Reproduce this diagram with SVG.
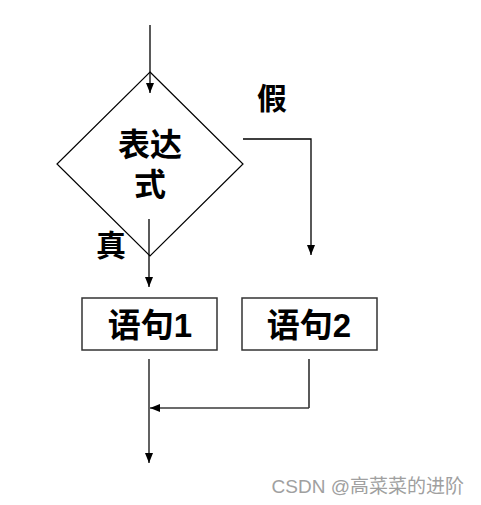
<svg xmlns="http://www.w3.org/2000/svg" width="481" height="505" viewBox="0 0 481 505">
<style>
.ln{fill:none;stroke:#000;stroke-width:1.3}
.lg{fill:none;stroke:#3a3a3a;stroke-width:1.6}
.bx{fill:#fff;stroke:#333;stroke-width:1.5}
.t{font-family:"Liberation Sans","Noto Sans CJK SC",sans-serif;font-weight:bold;fill:#000}
.wm{font-family:"Liberation Sans","Noto Sans CJK SC",sans-serif;fill:#a0a0a0;font-size:19px}
</style>
<defs>
<marker id="ah" viewBox="0 0 10 10" refX="10" refY="5" markerWidth="10" markerHeight="10" markerUnits="userSpaceOnUse" orient="auto">
<path d="M0,1 L10,5 L0,9 Z" fill="#000"/>
</marker>
</defs>
<rect width="481" height="505" fill="#fff"/>
<g id="decision">
<polygon points="150,72 243,164 150,256 57,164" fill="#fff" stroke="#000" stroke-width="1.2"/>
<text class="t" x="150" y="156" font-size="32" text-anchor="middle">表达</text>
<text class="t" x="150" y="196" font-size="32" text-anchor="middle">式</text>
</g>
<g id="stmt1">
<rect class="bx" x="82" y="298" width="135" height="52"/>
<text class="t" x="150" y="337" font-size="33" text-anchor="middle">语句1</text>
</g>
<g id="stmt2">
<rect class="bx" x="242" y="298" width="135" height="52"/>
<text class="t" x="309" y="337" font-size="33" text-anchor="middle">语句2</text>
</g>
<g id="labels">
<text class="t" x="272" y="109" font-size="30" text-anchor="middle">假</text>
<text class="t" x="111" y="256" font-size="30" text-anchor="middle">真</text>
</g>
<g id="connectors">
<line class="ln" x1="150" y1="25" x2="150" y2="93" marker-end="url(#ah)"/>
<polyline class="ln" points="243,139 311,139 311,255" marker-end="url(#ah)"/>
<line class="ln" x1="149" y1="219" x2="149" y2="287" marker-end="url(#ah)"/>
<line class="lg" x1="149" y1="359" x2="149" y2="463" marker-end="url(#ah)"/>
<line class="ln" x1="309" y1="359" x2="309" y2="408"/>
<line class="lg" x1="309" y1="408" x2="150" y2="408" marker-end="url(#ah)"/>
</g>
<text class="wm" x="464" y="493" text-anchor="end">CSDN @高菜菜的进阶</text>
</svg>
